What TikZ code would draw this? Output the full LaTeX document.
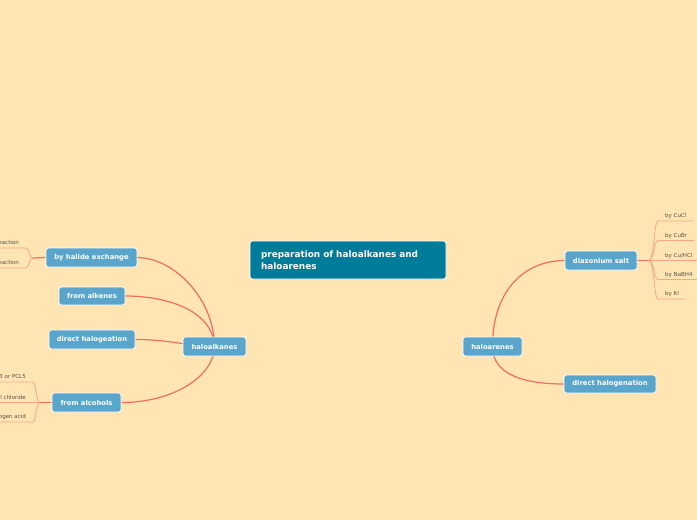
\documentclass[tikz,border=0pt]{standalone}
\usepackage{fontspec}
\setmainfont{DejaVu Sans}
\usetikzlibrary{backgrounds,calc}
\definecolor{bgc}{HTML}{FFE5B4}
\definecolor{boxc}{HTML}{5AA5CB}
\definecolor{rootc}{HTML}{007C9B}
\definecolor{mainln}{HTML}{F26D5E}
\definecolor{subln}{HTML}{F7A68A}
\definecolor{leaftxt}{HTML}{5C5044}
\tikzset{
  topic/.style={draw=white, line width=0.8pt, fill=boxc, rounded corners=2.5pt,
    text=white, font=\bfseries\fontsize{6.8}{7}\selectfont, inner sep=0pt, align=center},
  roottopic/.style={draw=white, line width=0.8pt, fill=rootc, rounded corners=2.5pt,
    text=white, font=\bfseries\fontsize{8.9}{12}\selectfont, inner xsep=11pt, inner ysep=0pt,
    minimum width=196pt, minimum height=38pt, text width=174pt, align=left},
  leafr/.style={anchor=south west, text=leaftxt, font=\fontsize{5.5}{6}\selectfont,
    inner xsep=7pt, inner ysep=2pt, text height=4pt, text depth=1.2pt},
  leafl/.style={anchor=south east, text=leaftxt, font=\fontsize{5.5}{6}\selectfont,
    inner xsep=7pt, inner ysep=2pt, text height=4pt, text depth=1.2pt},
  mainedge/.style={draw=mainln, line width=1.2pt},
  subedge/.style={draw=subln, line width=0.8pt},
}
\begin{document}
\begin{tikzpicture}[x=1pt,y=-1pt]
\useasboundingbox (0,0) rectangle (697,520);
\begin{scope}[on background layer]
  \fill[bgc] (0,0) rectangle (697,520);
\end{scope}

% root
\node[roottopic] (root) at (348,260) {preparation of haloalkanes and\\haloarenes};

% left side
\node[topic, minimum width=63pt, minimum height=19pt] (ha) at (214.5,346.5) {haloalkanes};
\node[topic, minimum width=91pt, minimum height=19pt] (hx) at (91.5,257.5) {by halide exchange};
\node[topic, minimum width=66pt, minimum height=18pt] (alk) at (92,296) {from alkenes};
\node[topic, minimum width=86pt, minimum height=19pt] (dh) at (92,339.5) {direct halogeation};
\node[topic, minimum width=69pt, minimum height=19pt] (alc) at (86.5,402.5) {from alcohols};

% right side
\node[topic, minimum width=59pt, minimum height=19pt] (hr) at (492.5,346.5) {haloarenes};
\node[topic, minimum width=72pt, minimum height=19pt] (dz) at (601,260.5) {diazonium salt};
\node[topic, minimum width=92pt, minimum height=18pt] (dhg) at (610,384) {direct halogenation};

% leaves right
\node[leafr] (l1) at (658,221) {by CuCl};
\node[leafr] (l2) at (658,240.5) {by CuBr};
\node[leafr] (l3) at (658,260.5) {by Cu/HCl};
\node[leafr] (l4) at (658,279.5) {by NaBH4};
\node[leafr] (l5) at (658,299) {by KI};
\coordinate (dzb) at (649,260.5);

% leaves left (halide exchange)
\node[leafl] (x1) at (26,248) {eaction};
\node[leafl] (x2) at (26,268) {eaction};
\coordinate (hxb) at (33,258);

% leaves left (alcohols)
\node[leafl] (a1) at (33,382) {3 or PCL5};
\node[leafl] (a2) at (33,402.5) {l chloride};
\node[leafl] (a3) at (33,422) {ogen acid};
\coordinate (alcb) at (40,402.5);

\begin{scope}[on background layer]
  % main connectors
  \draw[mainedge] (hx.east) .. controls (175,258) and (214.5,300) .. (ha.center);
  \draw[mainedge] (alk.east) .. controls (170,296) and (213,312) .. (ha.center);
  \draw[mainedge] (dh.east) .. controls (170,339.5) and (190,346.5) .. (ha.center);
  \draw[mainedge] (alc.east) .. controls (175,402.5) and (214.5,375) .. (ha.center);
  \draw[mainedge] (hr.center) .. controls (492.5,290) and (525,260.5) .. (dz.west);
  \draw[mainedge] (hr.center) .. controls (492.5,375) and (525,384) .. (dhg.west);
  \draw[mainedge] (dz.east) -- (dzb);
  \draw[mainedge] (hx.west) -- (hxb);
  \draw[mainedge] (alc.west) -- (alcb);
  % sub connectors right
  \foreach \l in {l1,l2,l4,l5}{
    \draw[subedge] (dzb) .. controls ($(dzb)+(5,0)$) and ($(\l.south west)+(-4,0)$) .. (\l.south west) -- (\l.south east);
  }
  \draw[subedge] (dzb) -- (l3.south west) -- (l3.south east);
  % sub connectors left
  \foreach \l in {x1,x2}{
    \draw[subedge] (hxb) .. controls ($(hxb)+(-4,0)$) and ($(\l.south east)+(3,0)$) .. (\l.south east) -- (\l.south west);
  }
  \foreach \l in {a1,a3}{
    \draw[subedge] (alcb) .. controls ($(alcb)+(-4,0)$) and ($(\l.south east)+(3,0)$) .. (\l.south east) -- (\l.south west);
  }
  \draw[subedge] (alcb) -- (a2.south east) -- (a2.south west);
\end{scope}
\end{tikzpicture}
\end{document}
